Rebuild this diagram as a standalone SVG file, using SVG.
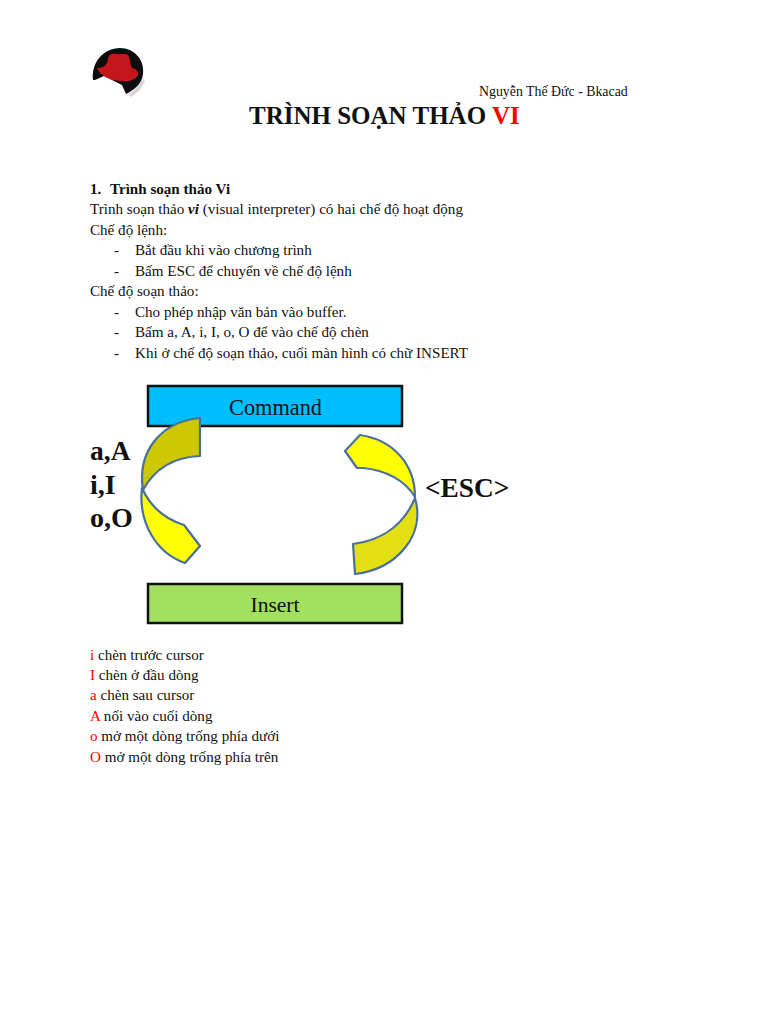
<svg xmlns="http://www.w3.org/2000/svg" width="768" height="1024" viewBox="0 0 768 1024">
<defs><filter id="soft" x="-10%" y="-10%" width="120%" height="120%"><feGaussianBlur stdDeviation="0.7"/></filter></defs>
<style>
text{font-family:"Liberation Serif","Noto Serif","DejaVu Serif",serif;fill:#111}
.b{font-size:15.1px}
.h{font-weight:bold}
.r{fill:#f00}
.big{font-size:28px;font-weight:bold}
.box{stroke:#111;stroke-width:2.5}
.arr{stroke:#4a6f9c;stroke-width:2.2;stroke-linejoin:round}
</style>
<rect width="768" height="1024" fill="#fff"/>
<g id="logo" filter="url(#soft)">
<path d="M128 95L136 88L143 78L145 82L139 91L131 97Z" fill="#d8d8d8"/>
<path d="M93 80C91 62 104 48 120 48C134 48 145 60 143 74C142 84 134 90 126 94L122 85L112 80L104 76L95 80Z" fill="#0c0c0c"/>
<path d="M97 68C103 68 107 66 108 59C108 54 113 53 117 54C122 55 125 53 128 55C131 60 130 65 132 68C136 69 139 72 138 75C135 81 126 82 120 81C110 80 100 76 97 68Z" fill="#c5161d"/>
</g>
<text x="479" y="96" style="font-size:13.85px">Nguyễn Thế Đức - Bkacad</text>
<text x="249" y="124" class="h" style="font-size:25px">TRÌNH SOẠN THẢO <tspan class="r">VI</tspan></text>
<g id="body" class="b">
<text x="90" y="194" class="h">1.</text><text x="110" y="194" class="h">Trình soạn thảo Vi</text>
<text x="90" y="214">Trình soạn thảo <tspan font-weight="bold" font-style="italic">vi</tspan> (visual interpreter) có hai chế độ hoạt động</text>
<text x="90" y="235">Chế độ lệnh:</text>
<text x="114" y="255">-</text><text x="135" y="255">Bắt đầu khi vào chương trình</text>
<text x="114" y="276">-</text><text x="135" y="276">Bấm ESC để chuyển về chế độ lệnh</text>
<text x="90" y="296">Chế độ soạn thảo:</text>
<text x="114" y="317">-</text><text x="135" y="317">Cho phép nhập văn bản vào buffer.</text>
<text x="114" y="337">-</text><text x="135" y="337">Bấm a, A, i, I, o, O để vào chế độ chèn</text>
<text x="114" y="358">-</text><text x="135" y="358">Khi ở chế độ soạn thảo, cuối màn hình có chữ INSERT</text>
</g>
<g id="command">
<rect class="box" x="148" y="386" width="254" height="40" fill="#00bfff"/>
<text x="275.500" y="415" text-anchor="middle" style="font-size:22.3px">Command</text>
</g>
<g id="insert">
<rect class="box" x="148" y="584" width="254" height="39" fill="#a2e060"/>
<text x="275" y="612" text-anchor="middle" style="font-size:21.5px">Insert</text>
</g>
<g id="connectors">
<path class="arr" fill="#ffff00" d="M142 488C138 522 156 553 185 563L200 546L184 525C165 519 150 506 142 488Z"/>
<path class="arr" fill="#cdc800" d="M143 490C137 452 160 422 200 418L200 456C175 457 155 468 143 490Z"/>
<path class="arr" fill="#ffff00" d="M415 497C415 465 394 440 360 435L345 451L357 468L363 468C385 470 405 480 415 497Z"/>
<path class="arr" fill="#e2e010" d="M415 498C426 535 397 569 355 574L353 544C385 540 405 522 415 498Z"/>
</g>
<g id="labels">
<text x="90" y="460" class="big" style="font-size:27.5px">a,A</text>
<text x="90" y="494" class="big">i,I</text>
<text x="90" y="527" class="big">o,O</text>
<text x="425" y="497" class="big" style="font-size:27.300px">&lt;ESC&gt;</text>
</g>
<g id="legend" class="b">
<text x="90" y="660"><tspan class="r">i</tspan> chèn trước cursor</text>
<text x="90" y="680"><tspan class="r">I</tspan> chèn ở đầu dòng</text>
<text x="90" y="700"><tspan class="r">a</tspan> chèn sau cursor</text>
<text x="90" y="721"><tspan class="r">A</tspan> nối vào cuối dòng</text>
<text x="90" y="741"><tspan class="r">o</tspan> mở một dòng trống phía dưới</text>
<text x="90" y="762"><tspan class="r">O</tspan> mở một dòng trống phía trên</text>
</g>
</svg>
